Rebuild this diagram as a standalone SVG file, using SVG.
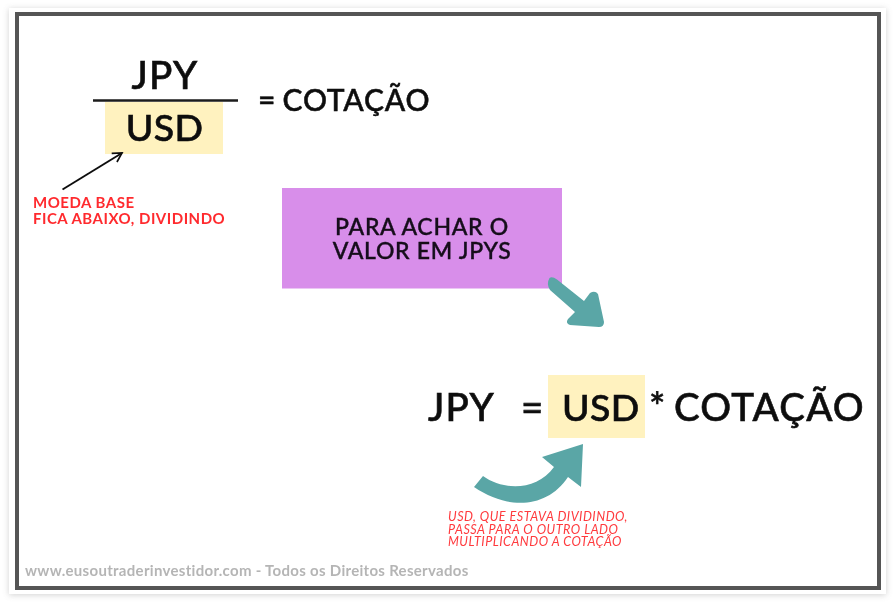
<svg xmlns="http://www.w3.org/2000/svg" width="895" height="602" viewBox="0 0 895 602">
  <style>
    text { font-family: "Lato", "Liberation Sans", sans-serif; }
    .big { font-size: 38.500px; font-weight: 500; letter-spacing: 1.200px; fill: #0b0b0b; stroke: #0b0b0b; stroke-width: 0.6px; }
    .usd { font-size: 37.500px; font-weight: 500; letter-spacing: 0.300px; fill: #0b0b0b; stroke: #0b0b0b; stroke-width: 0.6px; }
    .mid { font-size: 30px; font-weight: 500; letter-spacing: 0.8px; fill: #0b0b0b; stroke: #0b0b0b; stroke-width: 0.5px; }
    .box { font-size: 23px; font-weight: 500; letter-spacing: 0.7px; fill: #140d1a; stroke: #140d1a; stroke-width: 0.4px; }
    .red { font-size: 15px; font-weight: 700; letter-spacing: 0.5px; fill: #ff2b2f; }
    .note { font-size: 12.6px; font-style: italic; letter-spacing: 0.5px; fill: #ff3a3e; }
    .foot { font-size: 15px; font-weight: 700; letter-spacing: 0.3px; fill: #b5b5b5; }
    .hl { fill: #fff2bf; }
    .teal { fill: #5aa6a6; }
  </style>
  <defs>
    <filter id="shadow" x="-3%" y="-3%" width="106%" height="106%">
      <feGaussianBlur stdDeviation="3"/>
    </filter>
    <filter id="soft" x="-5%" y="-20%" width="110%" height="140%">
      <feGaussianBlur stdDeviation="0.4"/>
    </filter>
    <marker id="head" viewBox="0 0 12 12" refX="10" refY="6" markerWidth="12" markerHeight="12" markerUnits="userSpaceOnUse" orient="auto">
      <path d="M1 1 L10 6 L1 11" fill="none" stroke="#111" stroke-width="1.7"/>
    </marker>
  </defs>
  <rect width="895" height="602" fill="#ffffff"/>
  <g id="frame">
    <rect x="9" y="9" width="877" height="586" fill="#9a9a9a" opacity="0.45" filter="url(#shadow)"/>
    <rect x="9" y="8" width="877" height="586" fill="#ffffff"/>
    <rect x="17" y="14" width="862" height="574" fill="#ffffff" stroke="#555555" stroke-width="4"/>
  </g>
  <g id="fraction" filter="url(#soft)">
    <rect class="hl" x="105" y="102" width="118" height="52"/>
    <line x1="93" y1="100.500" x2="238" y2="100.500" stroke="#1a1a1a" stroke-width="2.500"/>
    <text class="big" x="165" y="89" text-anchor="middle">JPY</text>
    <text class="usd" x="164.500" y="140.500" text-anchor="middle">USD</text>
    <text class="mid" x="258" y="111">=<tspan x="282.500">COTAÇÃO</tspan></text>
  </g>
  <g id="base-note" filter="url(#soft)">
    <text class="red" x="33" y="208">MOEDA BASE</text>
    <text class="red" x="33" y="224">FICA ABAIXO, DIVIDINDO</text>
  </g>
  <g id="action-box" filter="url(#soft)">
    <rect x="282" y="188" width="280" height="100.500" fill="#d88eea"/>
    <text class="box" x="422" y="235" text-anchor="middle">PARA ACHAR O</text>
    <text class="box" x="422" y="259" text-anchor="middle">VALOR EM JPYS</text>
  </g>
  <g id="equation" filter="url(#soft)">
    <rect class="hl" x="548" y="375" width="97" height="63"/>
    <text class="big" x="428" y="421">JPY</text>
    <text class="big" x="521" y="421">=</text>
    <text class="usd" x="562" y="421">USD</text>
    <text class="big" x="649" y="421">*</text>
    <text class="big" x="674" y="421">COTAÇÃO</text>
  </g>
  <g id="rotation-note" filter="url(#soft)">
    <text class="note" x="448" y="521">USD, QUE ESTAVA DIVIDINDO,</text>
    <text class="note" x="448" y="533.500">PASSA PARA O OUTRO LADO</text>
    <text class="note" x="448" y="546">MULTIPLICANDO A COTAÇÃO</text>
  </g>
  <g id="connectors" filter="url(#soft)">
    <line x1="62.500" y1="189.500" x2="122" y2="153" stroke="#111" stroke-width="2" marker-end="url(#head)"/>
    <path class="teal" d="M549.500 278 Q552 276 557 279.500 L584 301 L590 293 Q595 290 598 294 L604 322 Q604 327 599 327 L570 325 Q565 323 568 319 L575 312 L550 290 Q546 284 549.500 278 Z"/>
    <path class="teal" d="M474 487 L483 476 C502 490 536 492 554 467 L542 457 L583 444 L581 487 L568 477 C546 510 506 509 474 487 Z"/>
  </g>
  <text class="foot" x="25" y="576" filter="url(#soft)">www.eusoutraderinvestidor.com - Todos os Direitos Reservados</text>
</svg>
